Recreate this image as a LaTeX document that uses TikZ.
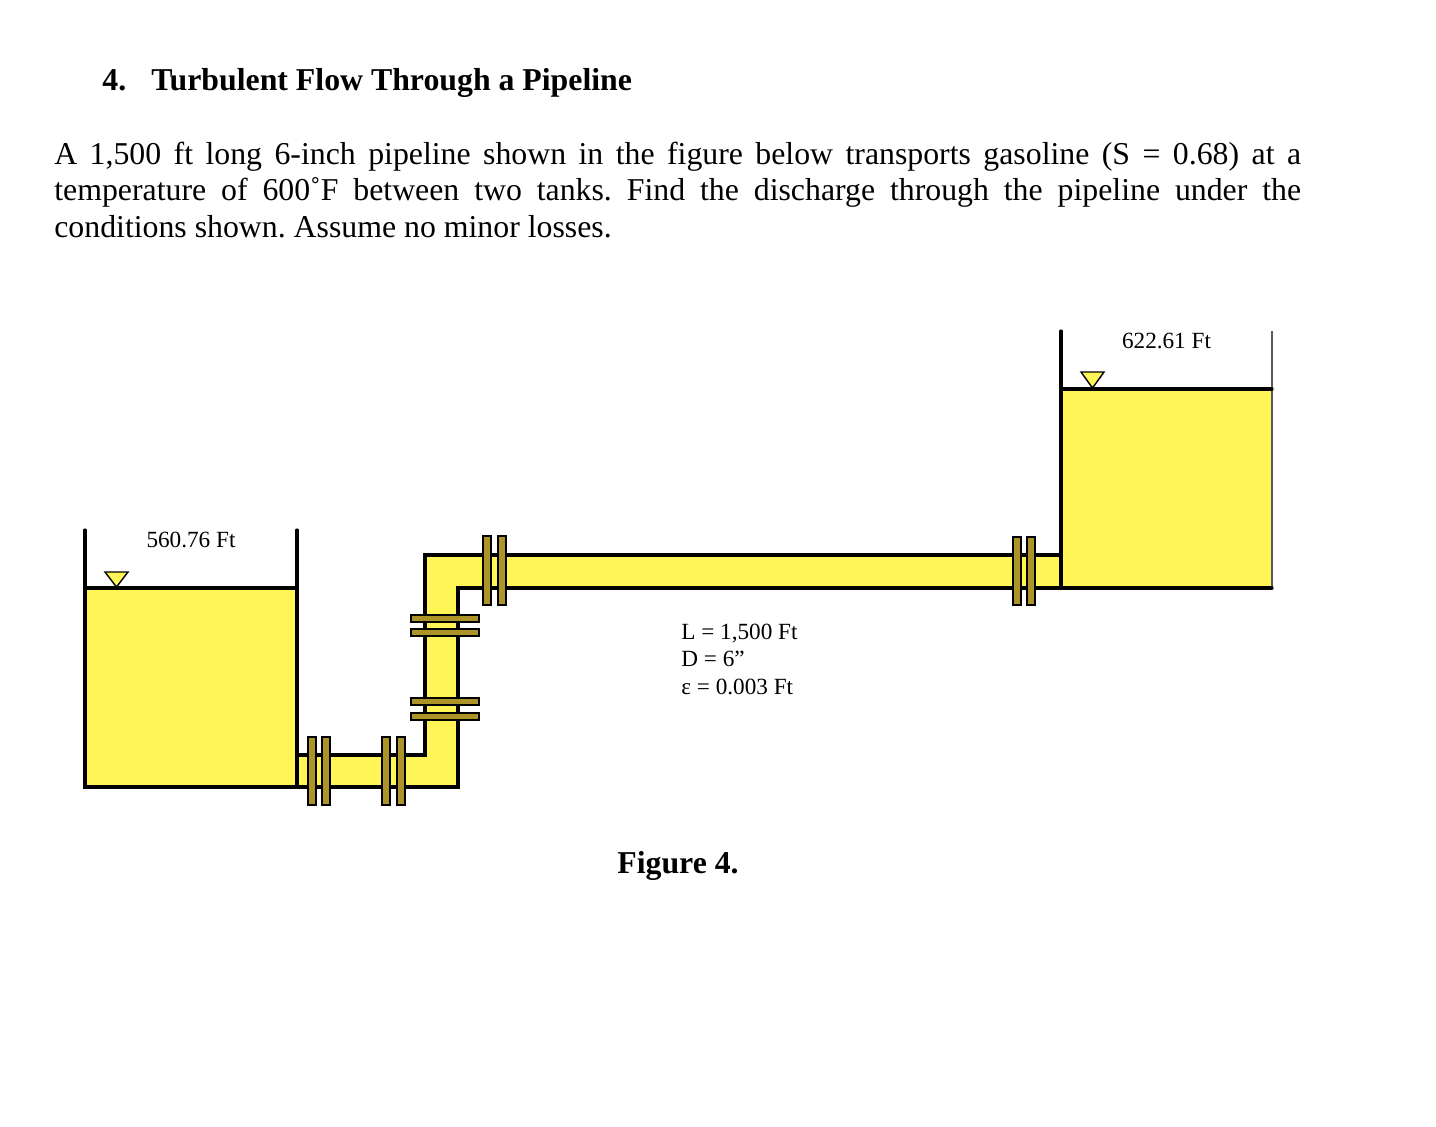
\documentclass[tikz,border=0pt]{standalone}
\usepackage{fontspec}
\setmainfont{Liberation Serif}
\usetikzlibrary{positioning}
\definecolor{waterfill}{HTML}{FFF556}
\definecolor{flangefill}{HTML}{AD9429}
\tikzset{
  wall/.style={line width=1.8pt, line cap=round},
  thinwall/.style={line width=0.7pt, draw=black!65},
  water/.style={fill=waterfill, draw=none},
  flange/.style={fill=flangefill, draw=black, line width=0.8pt},
  surface/.style={fill=waterfill, draw=black, line width=0.8pt},
  label/.style={inner sep=0pt, font=\fontsize{13.2pt}{15.6pt}\selectfont},
  heading/.style={inner sep=0pt, font=\fontsize{18.1pt}{21pt}\selectfont\bfseries}
}
\begin{document}
\frenchspacing
\begin{tikzpicture}[x=0.02cm, y=-0.02cm]
  \useasboundingbox (0,0) rectangle (1436,1126);

  % Heading and problem text
  \node[heading, anchor=base west] (number) at (102,90) {4.};
  \node[heading, anchor=base west] (title) at (151,90) {Turbulent Flow Through a Pipeline};
  \node[inner sep=0pt, anchor=base west, text width=24.94cm, align=justify,
    font=\fontsize{18.1pt}{21pt}\selectfont] (problem) at (54,164)
    {A 1,500 ft long 6-inch pipeline shown in the figure below transports gasoline (S = 0.68) at a\linebreak
     temperature of 600˚F between two tanks. Find the discharge through the pipeline under the\linebreak
     conditions shown. Assume no minor losses.};

  % Fluid in the tanks and the pipe
  \fill[water] (85,588) rectangle (297,787);
  \fill[water] (1061,389) rectangle (1272,588);
  \fill[water] (297,755) -- (425,755) -- (425,555) -- (1061,555) -- (1061,588)
    -- (458,588) -- (458,787) -- (297,787) -- cycle;

  % Left tank
  \draw[wall] (85,530) -- (85,787) -- (297,787) -- (297,530);
  \draw[wall] (85,588) -- (297,588);
  % Right tank
  \draw[thinwall] (1272,331) -- (1272,588);
  \draw[wall] (1061,331) -- (1061,588) -- (1272,588);
  \draw[wall] (1061,389) -- (1272,389);
  % Pipe walls
  \draw[wall] (297,755) -- (425,755) -- (425,555) -- (1061,555);
  \draw[wall] (297,787) -- (458,787) -- (458,588) -- (1061,588);

  % Flanges across the horizontal runs
  \foreach \xa/\ya/\yb in {308/737/805, 322/737/805, 382/737/805, 397/737/805,
                           483/536/605, 498/536/605, 1013/537/605, 1027/537/605}
    \filldraw[flange] (\xa,\ya) rectangle ++(8,\yb-\ya);
  % Flanges across the vertical run
  \foreach \ya in {615, 629, 698, 713}
    \filldraw[flange] (411,\ya) rectangle (479,\ya+7);

  % Water level marks
  \filldraw[surface] (105,572) -- (128,572) -- (116.5,587) -- cycle;
  \filldraw[surface] (1081,372) -- (1104,372) -- (1092.5,388) -- cycle;

  % Labels
  \node[label, anchor=base] (leftlevel) at (191,547) {560.76 Ft};
  \node[label, anchor=base] (rightlevel) at (1166.5,348) {622.61 Ft};
  \node[label, anchor=base west] (length) at (681,639) {L = 1,500 Ft};
  \node[label, anchor=base west] (diameter) at (681,666) {D = 6”};
  \node[label, anchor=base west] (rough) at (681,694) {ε = 0.003 Ft};
  \node[heading, anchor=base west] (caption) at (617,873) {Figure 4.};
\end{tikzpicture}
\end{document}
